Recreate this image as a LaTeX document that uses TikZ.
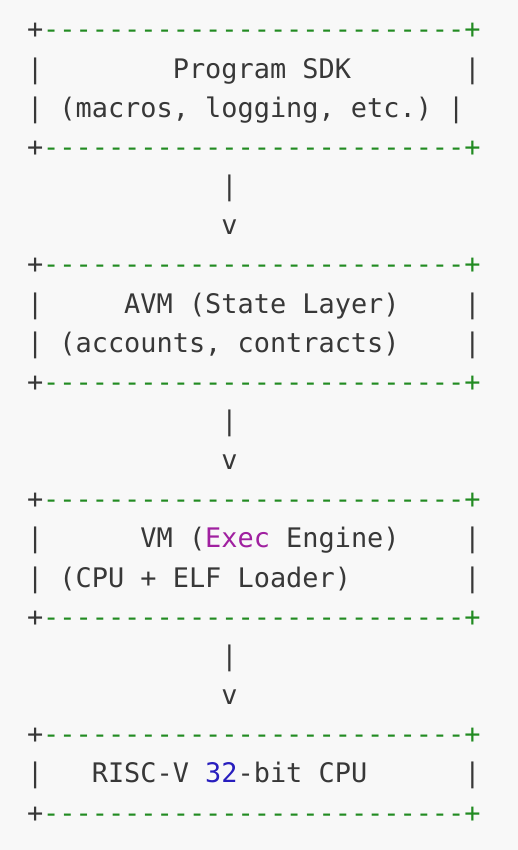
\documentclass[tikz,border=0pt]{standalone}
\usepackage{xcolor}
\usepackage{fontspec}
\usepackage{tikz}
\newfontfamily\asciifont{DejaVu Sans Mono}
\definecolor{bggray}{RGB}{248,248,248}
\definecolor{inkgray}{RGB}{56,56,56}
\definecolor{dashgreen}{RGB}{34,139,34}
\definecolor{keywordpurple}{RGB}{160,32,160}
\definecolor{numberblue}{RGB}{40,30,190}
% one border row: + then 26 dashes and + in green
\newcommand\dashrun{\foreach\k in {1,...,26}{-}}
\newcommand\borderrow{+\textcolor{dashgreen}{\dashrun+}}

\begin{document}
\begin{tikzpicture}[
    x=1pt, y=-1pt,
    txt/.style={anchor=base west, inner sep=0pt, outer sep=0pt, text=inkgray, font={\asciifont\fontsize{26.91pt}{39.15pt}\selectfont}},
    border/.style={txt},
    side/.style={txt},
    pipe/.style={txt}
]
    \fill[bggray] (0,0) rectangle (518,850);
    \useasboundingbox (0,0) rectangle (518,850);

    % Program SDK
    \node[border] (sdkTop) at (27,39) {\borderrow};
    \node[side] (sdkL1) at (27,78.15) {|};
    \node[txt] (sdkTitle) at (172.8,78.15) {Program SDK};
    \node[side] (sdkR1) at (464.4,78.15) {|};
    \node[side] (sdkL2) at (27,117.3) {|};
    \node[txt] (sdkNote) at (59.4,117.3) {(macros, logging, etc.)};
    \node[side] (sdkR2) at (448.2,117.3) {|};
    \node[border] (sdkBottom) at (27,156.45) {\borderrow};

    \node[pipe] (sdkPipe) at (221.4,195.6) {|};
    \node[pipe] (sdkHead) at (221.4,234.75) {v};

    % AVM
    \node[border] (avmTop) at (27,273.9) {\borderrow};
    \node[side] (avmL1) at (27,313.05) {|};
    \node[txt] (avmTitle) at (124.2,313.05) {AVM (State Layer)};
    \node[side] (avmR1) at (464.4,313.05) {|};
    \node[side] (avmL2) at (27,352.2) {|};
    \node[txt] (avmNote) at (59.4,352.2) {(accounts, contracts)};
    \node[side] (avmR2) at (464.4,352.2) {|};
    \node[border] (avmBottom) at (27,391.35) {\borderrow};

    \node[pipe] (avmPipe) at (221.4,430.5) {|};
    \node[pipe] (avmHead) at (221.4,469.65) {v};

    % VM
    \node[border] (vmTop) at (27,508.8) {\borderrow};
    \node[side] (vmL1) at (27,547.95) {|};
    \node[txt] (vmTitle) at (140.4,547.95) {VM (\textcolor{keywordpurple}{Exec} Engine)};
    \node[side] (vmR1) at (464.4,547.95) {|};
    \node[side] (vmL2) at (27,587.1) {|};
    \node[txt] (vmNote) at (59.4,587.1) {(CPU + ELF Loader)};
    \node[side] (vmR2) at (464.4,587.1) {|};
    \node[border] (vmBottom) at (27,626.25) {\borderrow};

    \node[pipe] (vmPipe) at (221.4,665.4) {|};
    \node[pipe] (vmHead) at (221.4,704.55) {v};

    % CPU
    \node[border] (cpuTop) at (27,743.7) {\borderrow};
    \node[side] (cpuL1) at (27,782.85) {|};
    \node[txt] (cpuTitle) at (91.8,782.85) {RISC-V \textcolor{numberblue}{32}-bit CPU};
    \node[side] (cpuR1) at (464.4,782.85) {|};
    \node[border] (cpuBottom) at (27,822) {\borderrow};
\end{tikzpicture}
\end{document}
